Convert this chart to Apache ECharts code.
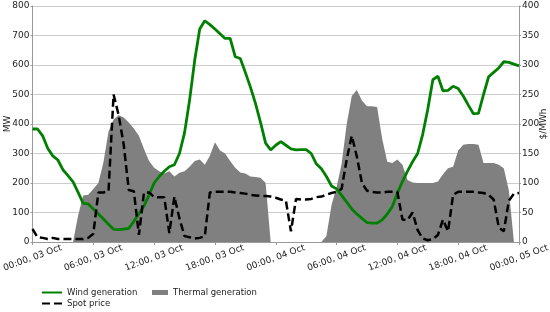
<!DOCTYPE html>
<html>
<head>
<meta charset="utf-8">
<script src="https://cdn.jsdelivr.net/npm/echarts@6/dist/echarts.min.js"></script>
<style>
  html, body { margin: 0; padding: 0; background: #fff; }
  #main { width: 550px; height: 312px; }
</style>
</head>
<body>
<div id="main"></div>
<script>
// half-hour steps from 00:00 03 Oct to 00:00 05 Oct
const hours = [];
for (let i = 0; i <= 96; i++) hours.push(i / 2);

const tickLabels = [
  "00:00, 03 Oct", "06:00, 03 Oct", "12:00, 03 Oct", "18:00, 03 Oct",
  "00:00, 04 Oct", "06:00, 04 Oct", "12:00, 04 Oct", "18:00, 04 Oct",
  "00:00, 05 Oct",
];

// MW
const wind = [
  383, 383, 360, 318, 292, 278, 245, 225, 204, 168, 131, 129,
  112, 95, 78, 60, 43, 42, 44, 46, 70, 96, 122, 160,
  200, 222, 240, 255, 262, 300, 370, 481, 615, 722, 750, 737,
  722, 706, 690, 690, 628, 622, 575, 525, 470, 405, 335, 312,
  328, 340, 328, 316, 312, 313, 313, 300, 265, 248, 222, 190,
  180, 158, 135, 112, 95, 80, 66, 64, 64, 75, 95, 120,
  165, 205, 240, 272, 300, 365, 450, 550, 562, 512, 514, 528,
  520, 495, 464, 435, 436, 500, 560, 575, 590, 611, 609, 603,
  597,
];

// MW
const thermal = [
  0, 0, 0, 0, 0, 0, 0, 0, 0, 90, 158, 160,
  180, 200, 270, 375, 415, 430, 422, 405, 385, 360, 315, 275,
  252, 240, 232, 240, 222, 235, 240, 255, 275, 280, 262, 292,
  338, 310, 300, 275, 252, 236, 232, 222, 220, 218, 200, 0,
  0, 0, 0, 0, 0, 0, 0, 0, 0, 0, 20, 125,
  185, 265, 400, 495, 515, 480, 460, 460, 458, 350, 272, 268,
  280, 262, 210, 202, 200, 200, 200, 200, 205, 230, 250, 255,
  310, 330, 332, 332, 330, 268, 268, 268, 262, 250, 175, 0,
  0,
];

// $/MWh
const spotPrice = [
  22, 8, 7, 5, 7, 5, 5, 5, 5, 5, 5, 7,
  14, 84, 84, 86, 250, 215, 165, 88, 86, 12, 84, 84,
  76, 76, 76, 15, 77, 40, 10, 8, 6, 7, 10, 84,
  85, 85, 85, 85, 84, 83, 82, 80, 79, 78, 78, 77,
  75, 72, 70, 18, 73, 72, 72, 73, 76, 77, 80, 83,
  85, 90, 140, 180, 145, 100, 87, 85, 84, 84, 85, 85,
  85, 38, 37, 50, 20, 6, 3, 5, 12, 38, 18, 80,
  85, 85, 85, 85, 84, 83, 80, 72, 25, 18, 70, 82,
  83,
];

const pair = (arr) => hours.map((h, i) => [h, arr[i]]);

const font = "DejaVu Sans";
const axisGray = "#999";
const textColor = "#222";

const chart = echarts.init(document.getElementById("main"));

const legendText = { fontSize: 8.5, fontFamily: font, color: textColor };
const noSymbol = { opacity: 0 };

const option = {
  animation: false,
  grid: { left: 32.5, right: 31, top: 6, bottom: 70, outerBoundsMode: "none" },
  legend: [
    {
      left: 36,
      top: 283,
      itemWidth: 20,
      itemHeight: 6,
      textStyle: legendText,
      data: [{ name: "Wind generation", itemStyle: noSymbol }],
    },
    {
      left: 147,
      top: 283,
      itemWidth: 16,
      itemHeight: 5,
      textStyle: legendText,
      data: [{ name: "Thermal generation", icon: "rect" }],
    },
    {
      left: 36,
      top: 294,
      itemWidth: 20,
      itemHeight: 6,
      textStyle: legendText,
      data: [{ name: "Spot price", itemStyle: noSymbol }],
    },
  ],
  xAxis: {
    type: "value",
    min: 0,
    max: 48,
    interval: 6,
    splitLine: { show: false },
    axisLine: { lineStyle: { color: axisGray } },
    axisTick: { show: true, length: 3, lineStyle: { color: axisGray } },
    axisLabel: {
      formatter: (v) => tickLabels[v / 6],
      rotate: 20,
      align: "center",
      verticalAlign: "middle",
      margin: 16,
      fontSize: 9,
      fontFamily: font,
      color: textColor,
    },
  },
  yAxis: [
    {
      type: "value",
      min: 0,
      max: 800,
      interval: 100,
      name: "MW",
      nameLocation: "middle",
      nameRotate: 90,
      nameGap: 20,
      nameMoveOverlap: false,
      nameTextStyle: { fontSize: 9, fontFamily: font, color: textColor },
      axisLine: { show: true, lineStyle: { color: axisGray } },
      axisTick: { show: true, length: 2, lineStyle: { color: axisGray } },
      splitLine: { lineStyle: { color: "#ccc" } },
      axisLabel: { margin: 3, fontSize: 9, fontFamily: font, color: textColor },
    },
    {
      type: "value",
      min: 0,
      max: 400,
      interval: 50,
      position: "right",
      name: "$/MWh",
      nameLocation: "middle",
      nameRotate: 90,
      nameGap: 20,
      nameMoveOverlap: false,
      nameTextStyle: { fontSize: 9, fontFamily: font, color: textColor },
      axisLine: { show: true, lineStyle: { color: axisGray } },
      axisTick: { show: true, length: 2, lineStyle: { color: axisGray } },
      splitLine: { show: false },
      axisLabel: { margin: 3, fontSize: 9, fontFamily: font, color: textColor },
    },
  ],
  series: [
    {
      name: "Thermal generation",
      type: "line",
      data: pair(thermal),
      symbol: "none",
      lineStyle: { width: 0, color: "#808080" },
      itemStyle: { color: "#808080" },
      areaStyle: { color: "#808080", opacity: 1 },
      z: 1,
    },
    {
      name: "Wind generation",
      type: "line",
      data: pair(wind),
      symbol: "none",
      lineStyle: { width: 2.8, color: "#008000" },
      itemStyle: { color: "#008000" },
      z: 2,
    },
    {
      name: "Spot price",
      type: "line",
      yAxisIndex: 1,
      data: pair(spotPrice),
      symbol: "none",
      lineStyle: { width: 2.5, color: "#000", type: [8, 4] },
      itemStyle: { color: "#000" },
      z: 3,
    },
  ],
};

chart.setOption(option);
</script>
</body>
</html>
